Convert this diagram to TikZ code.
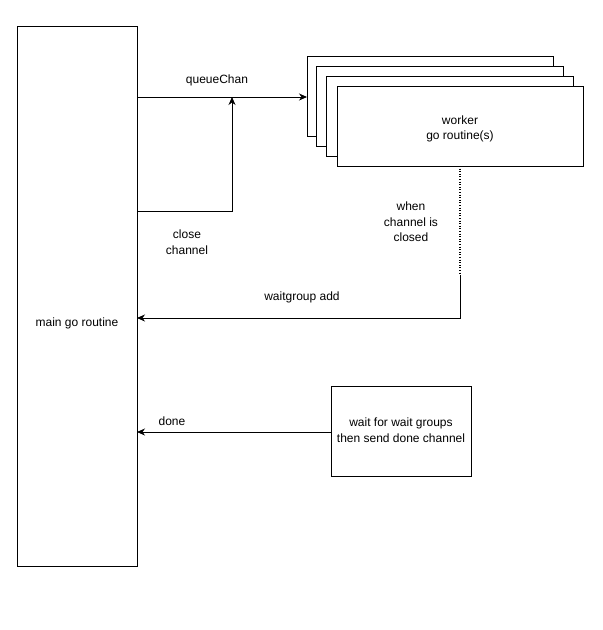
\documentclass[tikz,border=0pt]{standalone}
\usepackage{fontspec}
\setmainfont{Liberation Sans}
\usetikzlibrary{arrows.meta}
\begin{document}
\begin{tikzpicture}[x=1pt,y=-1pt,
  box/.style={draw,line width=0.9pt,fill=white,inner sep=0pt},
  lbl/.style={font=\fontsize{12}{15.5}\selectfont,align=center,inner sep=0pt},
  conn/.style={line width=0.9pt},
  arr/.style={conn,-{Stealth[length=8pt,width=7pt,inset=2.5pt]}}]
\useasboundingbox (0,0) rectangle (603,630);
% main box
\node[box,minimum width=120pt,minimum height=540pt,anchor=north west] (main) at (17,26) {};
\node[lbl] (mainlbl) at (77,323) {main go routine};
% worker stack
\node[box,minimum width=246pt,minimum height=80pt,anchor=north west] (w1) at (307,56) {};
\node[box,minimum width=247pt,minimum height=80pt,anchor=north west] (w2) at (316,66) {};
\node[box,minimum width=247pt,minimum height=80pt,anchor=north west] (w3) at (326,76) {};
\node[box,minimum width=246pt,minimum height=80pt,anchor=north west] (w4) at (337,86) {};
\node[lbl] (w4lbl) at (460,129) {worker\\go routine(s)};
% wait box
\node[box,minimum width=140pt,minimum height=90pt,anchor=north west] (wait) at (331,386) {};
\node[lbl] (waitlbl) at (401,430) {wait for wait groups\\then send done channel};
% coordinates
\coordinate (qs) at (137,97);
\coordinate (cs) at (137,211);
\coordinate (cc) at (232,211);
\coordinate (ct) at (232,97);
\coordinate (ds) at (460,166);
\coordinate (dm) at (460,275);
\coordinate (dc) at (460,318);
\coordinate (de) at (137,318);
\coordinate (ne) at (137,432);
% connectors
\draw[arr] (qs) -- (qs -| w1.west);
\draw[arr] (cs) -- (cc) -- (ct);
\draw[line width=1.3pt,dash pattern=on 1pt off 1.6pt] (ds) -- (dm);
\draw[arr] (dm) -- (dc) -- (de);
\draw[arr] (wait.west |- ne) -- (ne);
% labels
\node[lbl] (lq) at (217,80) {queueChan};
\node[lbl] (lc) at (187,242) {close\\channel};
\node[lbl] (lw) at (411,222) {when\\channel is\\closed};
\node[lbl] (lwa) at (302,297) {waitgroup add};
\node[lbl] (ld) at (172,421) {done};
\end{tikzpicture}
\end{document}
